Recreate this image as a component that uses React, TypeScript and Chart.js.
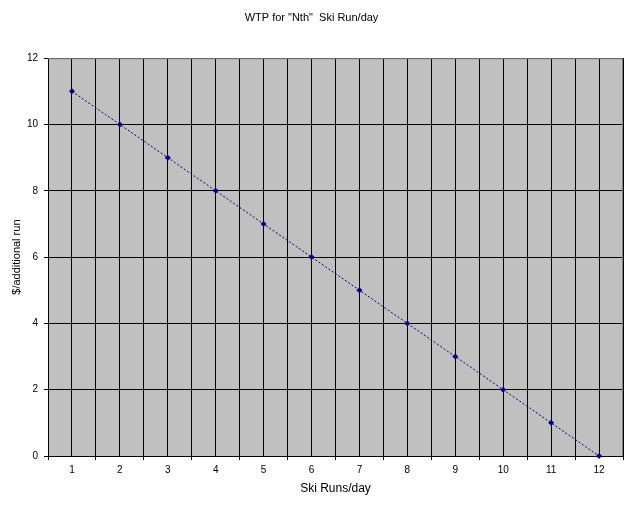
import { Chart, registerables } from "chart.js";
import { useEffect, useRef } from "react";

Chart.register(...registerables);

const runs = [1, 2, 3, 4, 5, 6, 7, 8, 9, 10, 11, 12];
const wtp = [11, 10, 9, 8, 7, 6, 5, 4, 3, 2, 1, 0];
const yTicks = [0, 2, 4, 6, 8, 10, 12];

const FONT = "'Liberation Sans', Arial, sans-serif";

// gray plot background + gray border on top/right
const plotArea = {
  id: "plotArea",
  beforeDraw(chart: Chart) {
    const { ctx, chartArea: a } = chart;
    ctx.save();
    ctx.fillStyle = "#c0c0c0";
    ctx.fillRect(a.left, a.top, a.right - a.left, a.bottom - a.top);
    ctx.restore();
  },
  afterDatasetsDraw(chart: Chart) {
    const { ctx, chartArea: a } = chart;
    ctx.save();
    ctx.strokeStyle = "#808080";
    ctx.lineWidth = 1;
    ctx.beginPath();
    ctx.moveTo(a.left, a.top + 0.5);
    ctx.lineTo(a.right - 0.5, a.top + 0.5);
    ctx.lineTo(a.right - 0.5, a.bottom);
    ctx.stroke();
    ctx.restore();
  },
};

const App = () => {
  const chartRef = useRef<HTMLCanvasElement>(null);

  useEffect(() => {
    let chartInstance: Chart | null = null;
    if (chartRef.current) {
      const context = chartRef.current.getContext("2d");
      if (context) {
        chartInstance = new Chart(context, {
          type: "line",
          data: {
            datasets: [
              {
                label: "WTP",
                data: runs.map((r, i) => ({ x: r, y: wtp[i] })),
                borderColor: "#000080",
                borderWidth: 1,
                borderDash: [2, 2],
                pointStyle: "rectRot",
                pointRadius: 3,
                pointBackgroundColor: "#000080",
                pointBorderColor: "#000080",
                pointBorderWidth: 0,
                tension: 0,
                clip: false,
              },
            ],
          },
          options: {
            animation: false,
            responsive: true,
            maintainAspectRatio: false,
            layout: { padding: { left: 0, right: 12, top: 0, bottom: 0 } },
            plugins: {
              legend: { display: false },
              tooltip: { enabled: false },
              title: {
                display: true,
                text: 'WTP for "Nth"  Ski Run/day',
                color: "#000",
                font: { family: FONT, size: 11, weight: "normal" },
                padding: { top: 11, bottom: 34 },
              },
            },
            scales: {
              x: {
                type: "linear",
                min: 0.5,
                max: 12.5,
                afterFit: (scale: any) => {
                  scale.height = 61;
                },
                afterBuildTicks: (scale: any) => {
                  const t = [];
                  for (let v = 0.5; v <= 12.5; v += 0.5) t.push({ value: v });
                  scale.ticks = t;
                },
                border: { color: "#000", width: 1 },
                grid: {
                  color: "#000",
                  lineWidth: 1,
                  tickLength: 4,
                  tickColor: (ctx: any) =>
                    ctx.tick && Number.isInteger(ctx.tick.value) ? "rgba(0,0,0,0)" : "#000",
                },
                ticks: {
                  autoSkip: false,
                  maxRotation: 0,
                  padding: 4,
                  color: "#000",
                  font: { family: FONT, size: 10 },
                  callback: (v: any) => (Number.isInteger(v) ? String(v) : ""),
                },
                title: {
                  display: true,
                  text: "Ski Runs/day",
                  color: "#000",
                  font: { family: FONT, size: 12 },
                  padding: { top: 0, bottom: 21 },
                },
              },
              y: {
                min: 0,
                max: 12,
                afterFit: (scale: any) => {
                  scale.width = 48;
                },
                afterBuildTicks: (scale: any) => {
                  scale.ticks = yTicks.map((v) => ({ value: v }));
                },
                border: { color: "#000", width: 1 },
                grid: { color: "#000", lineWidth: 1, tickLength: 4, tickColor: "#000" },
                ticks: {
                  padding: 6,
                  color: "#000",
                  font: { family: FONT, size: 10 },
                },
                title: {
                  display: true,
                  text: "$/additional run",
                  color: "#000",
                  font: { family: FONT, size: 11 },
                  padding: { top: 10, bottom: 0 },
                },
              },
            },
          },
          plugins: [plotArea],
        });
      }
    }
    return () => {
      if (chartInstance) chartInstance.destroy();
    };
  }, []);

  return (
    <div style={{ position: "fixed", left: 0, top: 0, width: 635, height: 517, background: "#fff" }}>
      <canvas ref={chartRef} />
    </div>
  );
};

export default App;
